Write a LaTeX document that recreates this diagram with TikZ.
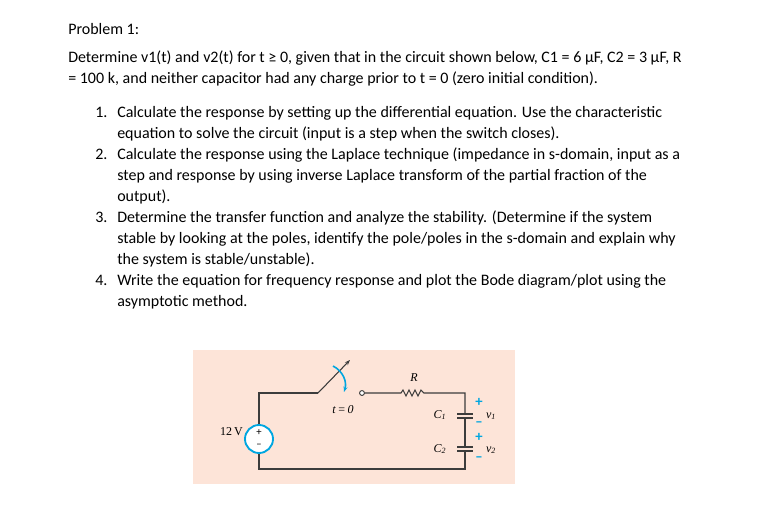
\documentclass[tikz,border=0pt]{standalone}
\usepackage{fontspec}
\setmainfont{Carlito}
\newfontfamily\ser{Liberation Serif}
\usetikzlibrary{arrows.meta}
\definecolor{bg}{RGB}{253,228,216}
\definecolor{cy}{RGB}{0,166,224}
\definecolor{wire}{RGB}{60,60,60}
\begin{document}
\begin{tikzpicture}[x=0.75pt,y=-0.75pt,
  txt/.style={anchor=base west,inner sep=0pt,font=\fontsize{12}{14}\selectfont},
  w/.style={draw=wire,line width=0.8pt},
  lab/.style={inner sep=0pt,font=\ser\fontsize{9}{10}\selectfont},
  pm/.style={inner sep=0pt,text=cy,font=\bfseries\fontsize{11}{11}\selectfont}]
\useasboundingbox (0,0) rectangle (776,512);
\node[txt] (t0) at (68,34) {Problem 1:};
\node[txt] (t1) at (68,62) {Determine v1(t) and v2(t) for t ≥ 0, given that in the circuit shown below, C1 = 6 µF, C2 = 3 µF, R};
\node[txt] (t2) at (68,83) {= 100 k, and neither capacitor had any charge prior to t = 0 (zero initial condition).};
\foreach \n/\y in {1/117,2/159,3/222,4/285}{\node[txt] (n\n) at (95,\y) {\n.};}
\node[txt] (a1) at (117,117) {Calculate the response by setting up the differential equation. Use the characteristic};
\node[txt] (a2) at (117,138) {equation to solve the circuit (input is a step when the switch closes).};
\node[txt] (b1) at (117,159) {Calculate the response using the Laplace technique (impedance in s-domain, input as a};
\node[txt] (b2) at (117,180) {step and response by using inverse Laplace transform of the partial fraction of the};
\node[txt] (b3) at (117,201) {output).};
\node[txt] (c1) at (117,222) {Determine the transfer function and analyze the stability. (Determine if the system};
\node[txt] (c2) at (117,243) {stable by looking at the poles, identify the pole/poles in the s-domain and explain why};
\node[txt] (c3) at (117,264) {the system is stable/unstable).};
\node[txt] (d1) at (117,285) {Write the equation for frequency response and plot the Bode diagram/plot using the};
\node[txt] (d2) at (117,306) {asymptotic method.};
% circuit
\fill[bg] (193,350) rectangle (515,484);
\coordinate (tl) at (259,393);
\coordinate (bl) at (259,469);
\coordinate (br) at (465,469);
\coordinate (tr) at (465,393);
\coordinate (pv) at (318,393);
\node[circle,draw=cy,line width=1.4pt,fill=white,minimum size=21pt,inner sep=0pt] (src) at (259,439) {};
\node[inner sep=0pt,font=\fontsize{8}{8}\selectfont] at (259,433) {+};
\node[inner sep=0pt,font=\fontsize{8}{8}\selectfont] at (259,446) {--};
\node[lab,anchor=east] (v12) at (243,432) {12\,V};
\draw[w] (src.north) -- (tl) -- (pv);
\draw[w] (src.south) -- (bl) -- (br) -- (465,451);
\draw[w,-{Stealth[length=4pt]}] (pv) -- (350,360);
\draw[cy,line width=1.2pt,-{Stealth[length=4pt]}] (333,366) to[bend left=40] (344,392);
\node[lab] (t0l) at (343,410) {\itshape t\,=\,0};
\node[circle,draw=wire,fill=white,line width=0.7pt,inner sep=1.3pt] (ct) at (362,393) {};
\draw[w] (ct) -- (401,393) -- (403,390) -- (406,396) -- (409,390) -- (412,396) -- (415,390) -- (418,396) -- (421,390) -- (424,393) -- (tr) -- (465,414);
\node[lab] (rl) at (414,378) {\itshape R};
\draw[w] (457,414) -- (473,414) (457,418) -- (473,418);
\draw[w] (465,418) -- (465,447);
\draw[w] (457,447) -- (473,447) (457,451) -- (473,451);
\node[lab] (c1l) at (440,415) {\itshape C\textsubscript{1}};
\node[lab] (c2l) at (440,449) {\itshape C\textsubscript{2}};
\node[pm] at (479,402) {+};
\node[pm] at (479,424) {--};
\node[pm] at (479,437) {+};
\node[pm] at (479,459) {--};
\node[lab] (v1) at (491,416) {\itshape v\textsubscript{1}};
\node[lab] (v2) at (491,450) {\itshape v\textsubscript{2}};
\end{tikzpicture}
\end{document}
